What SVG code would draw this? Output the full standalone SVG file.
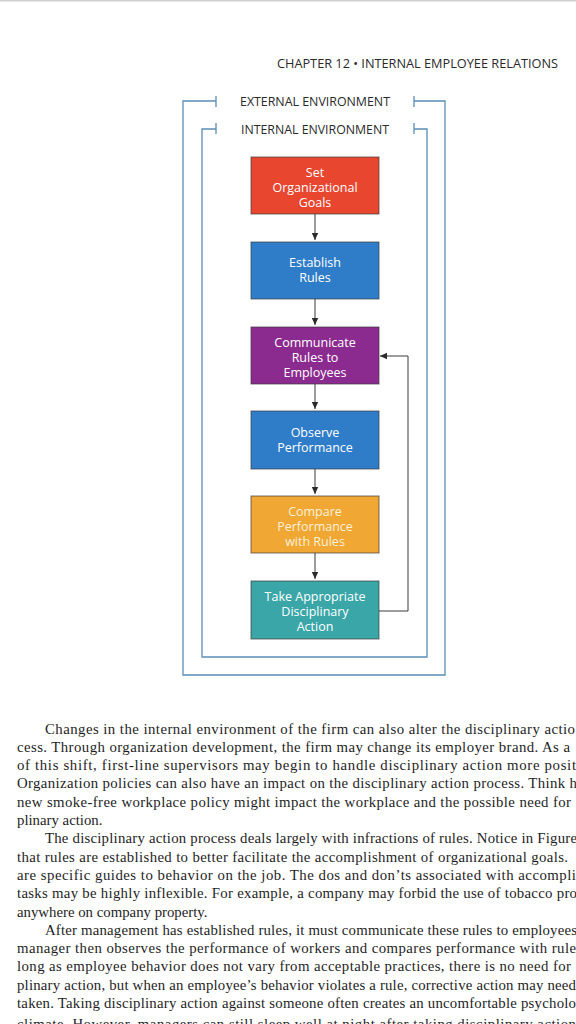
<svg xmlns="http://www.w3.org/2000/svg" width="576" height="1024" viewBox="0 0 576 1024">
<defs>
<marker id="ah" markerWidth="8" markerHeight="8" refX="7" refY="4" orient="auto" markerUnits="userSpaceOnUse">
<path d="M0,0.8 L7,4 L0,7.2 Z" fill="#2b2b2b"/>
</marker>
<style>
.box{stroke:#3a3a3a;stroke-opacity:0.7;stroke-width:1}
.bt{font-family:"Open Sans","Noto Sans",sans-serif;font-size:12.5px;fill:#ffffff;text-anchor:middle}
.env{font-family:"Open Sans","Noto Sans",sans-serif;font-size:12px;fill:#2a2a2a}
.frame{fill:none;stroke:#5b8db6;stroke-width:1.3}
.con{fill:none;stroke:#3a3a3a;stroke-width:1}
.body{font-family:"Liberation Serif","Times New Roman",serif;font-size:14.8px;fill:#1e1e1e}
</style>
</defs>
<rect width="576" height="1024" fill="#ffffff"/>
<rect x="0" y="0" width="576" height="1.5" fill="#d0d0d0"/>
<text class="env" x="277" y="68" textLength="281" lengthAdjust="spacingAndGlyphs">CHAPTER 12 • INTERNAL EMPLOYEE RELATIONS</text>

<g id="external-environment">
<path class="frame" d="M216,101 H183 V675 H445 V101 H414 M216,96 V107 M414,96 V107"/>
<text class="env" x="240" y="106" textLength="150" lengthAdjust="spacingAndGlyphs">EXTERNAL ENVIRONMENT</text>
</g>
<g id="internal-environment">
<path class="frame" d="M216,129 H202 V657 H427 V129 H414 M216,123 V134 M414,123 V134"/>
<text class="env" x="241" y="134" textLength="148" lengthAdjust="spacingAndGlyphs">INTERNAL ENVIRONMENT</text>
</g>

<g id="connectors">
<path class="con" d="M315,214 V240" marker-end="url(#ah)"/>
<path class="con" d="M315,299 V325" marker-end="url(#ah)"/>
<path class="con" d="M315,384 V409" marker-end="url(#ah)"/>
<path class="con" d="M315,469 V494" marker-end="url(#ah)"/>
<path class="con" d="M315,553 V579" marker-end="url(#ah)"/>
<path class="con" d="M379,611 H408 V356 H380" marker-end="url(#ah)"/>
</g>

<g id="set-goals">
<rect class="box" x="251" y="157" width="128" height="57" fill="#e8462f"/>
<text class="bt" x="315" y="177">Set</text>
<text class="bt" x="315" y="192">Organizational</text>
<text class="bt" x="315" y="207">Goals</text>
</g>
<g id="establish-rules">
<rect class="box" x="251" y="242" width="128" height="57" fill="#2f7dc9"/>
<text class="bt" x="315" y="267">Establish</text>
<text class="bt" x="315" y="282">Rules</text>
</g>
<g id="communicate-rules">
<rect class="box" x="251" y="327" width="128" height="57" fill="#8c2b8f"/>
<text class="bt" x="315" y="347">Communicate</text>
<text class="bt" x="315" y="362">Rules to</text>
<text class="bt" x="315" y="377">Employees</text>
</g>
<g id="observe-performance">
<rect class="box" x="251" y="411" width="128" height="58" fill="#2f7dc9"/>
<text class="bt" x="315" y="437">Observe</text>
<text class="bt" x="315" y="452">Performance</text>
</g>
<g id="compare-performance">
<rect class="box" x="251" y="496" width="128" height="57" fill="#f1a733"/>
<text class="bt" x="315" y="516" style="fill:#fdf1d8">Compare</text>
<text class="bt" x="315" y="531" style="fill:#fdf1d8">Performance</text>
<text class="bt" x="315" y="546" style="fill:#fdf1d8">with Rules</text>
</g>
<g id="take-action">
<rect class="box" x="251" y="581" width="128" height="58" fill="#3aa6a8"/>
<text class="bt" x="315" y="601">Take Appropriate</text>
<text class="bt" x="315" y="616">Disciplinary</text>
<text class="bt" x="315" y="631">Action</text>
</g>

<g id="body-text">
<text class="body" x="45" y="733.5" textLength="530" lengthAdjust="spacing">Changes in the internal environment of the firm can also alter the disciplinary actio</text>
<text class="body" x="17" y="751.8" textLength="553" lengthAdjust="spacing">cess. Through organization development, the firm may change its employer brand. As a</text>
<text class="body" x="17" y="770.1" textLength="559" lengthAdjust="spacing">of this shift, first-line supervisors may begin to handle disciplinary action more posit</text>
<text class="body" x="17" y="788.4" textLength="560" lengthAdjust="spacing">Organization policies can also have an impact on the disciplinary action process. Think h</text>
<text class="body" x="17" y="806.7" textLength="554" lengthAdjust="spacing">new smoke-free workplace policy might impact the workplace and the possible need for</text>
<text class="body" x="17" y="825.0">plinary action.</text>
<text class="body" x="45" y="843.3" textLength="532" lengthAdjust="spacing">The disciplinary action process deals largely with infractions of rules. Notice in Figure</text>
<text class="body" x="17" y="861.6" textLength="551" lengthAdjust="spacing">that rules are established to better facilitate the accomplishment of organizational goals.</text>
<text class="body" x="17" y="879.9" textLength="559" lengthAdjust="spacing">are specific guides to behavior on the job. The dos and don’ts associated with accompli</text>
<text class="body" x="17" y="898.2" textLength="560" lengthAdjust="spacing">tasks may be highly inflexible. For example, a company may forbid the use of tobacco pro</text>
<text class="body" x="17" y="916.5">anywhere on company property.</text>
<text class="body" x="45" y="934.8" textLength="532" lengthAdjust="spacing">After management has established rules, it must communicate these rules to employees</text>
<text class="body" x="17" y="953.1" textLength="559" lengthAdjust="spacing">manager then observes the performance of workers and compares performance with rule</text>
<text class="body" x="17" y="971.4" textLength="554" lengthAdjust="spacing">long as employee behavior does not vary from acceptable practices, there is no need for</text>
<text class="body" x="17" y="989.7" textLength="559" lengthAdjust="spacing">plinary action, but when an employee’s behavior violates a rule, corrective action may need</text>
<text class="body" x="17" y="1008.0" textLength="559" lengthAdjust="spacing">taken. Taking disciplinary action against someone often creates an uncomfortable psycholo</text>
<text class="body" x="17" y="1029" textLength="559" lengthAdjust="spacing">climate. However, managers can still sleep well at night after taking disciplinary action</text>
</g>
</svg>
